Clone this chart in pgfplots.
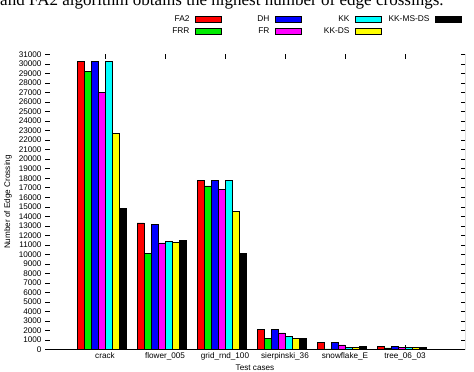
\documentclass[border=0pt]{standalone}
\usepackage{pgfplots}
\pgfplotsset{compat=1.18}
\usepackage{fontspec}
\setmainfont{Liberation Sans}
\newfontfamily\seriffont{Liberation Serif}
\definecolor{cFA}{RGB}{255,0,0}
\definecolor{cFRR}{RGB}{0,235,0}
\definecolor{cDH}{RGB}{0,0,255}
\definecolor{cFR}{RGB}{255,0,255}
\definecolor{cKK}{RGB}{0,255,255}
\definecolor{cKKDS}{RGB}{255,255,0}
\definecolor{cKKMS}{RGB}{0,0,0}
\newcommand{\lent}[1]{\makebox[42.5bp][r]{#1}}
\begin{document}
\begin{tikzpicture}
\begin{axis}[
  at={(0,0)}, anchor=south west,
  scale only axis, width=420bp, height=295bp,
  xmin=-1, xmax=6, ymin=0, ymax=31000,
  ybar, bar width=7bp,
  xtick={0,1,2,3,4,5},
  xticklabels={crack,flower\_005,grid\_rnd\_100,sierpinski\_36,snowflake\_E,tree\_06\_03},
  ytick={0,1000,...,31000},
  scaled y ticks=false,
  /pgf/number format/.cd, 1000 sep={}, assume math mode=true, /pgfplots/.cd,
  tick align=inside, major tick length=4.5bp,
  xtick pos=both, ytick pos=both,
  xticklabel pos=lower, yticklabel pos=left,
  axis line style={draw=none},
  tick style={black, line width=0.5bp},
  tick label style={font=\fontsize{8.2}{9}\selectfont},
  label style={font=\fontsize{8.2}{9}\selectfont},
  xlabel={Test cases}, ylabel={Number of Edge Crossing},
  xlabel style={yshift=2.5bp},
  legend columns=4,
  legend plot pos=right,
  legend image code/.code={\draw[#1] (0bp,-3bp) rectangle (26bp,3bp);},
  legend style={draw=none, fill=none, inner sep=0bp, column sep=2.5bp, row sep=0bp,
    font=\fontsize{8.4}{9}\selectfont,
    nodes={inner xsep=3bp, inner ysep=2.5bp, text height=6bp, text depth=1bp},
    at={(0.6137,1.1)}, anchor=center},
]
\addplot[fill=cFA, draw=black, line width=0.5bp, bar shift=-24.5bp] coordinates {(0,30250) (1,13300) (2,17750) (3,2120) (4,730) (5,290)};
\addlegendentry{\lent{FA2}}
\addplot[fill=cDH, draw=black, line width=0.5bp, bar shift=-10.5bp] coordinates {(0,30250) (1,13170) (2,17750) (3,2120) (4,730) (5,290)};
\addlegendentry{\lent{DH}}
\addplot[fill=cKK, draw=black, line width=0.5bp, bar shift=3.5bp] coordinates {(0,30250) (1,11390) (2,17750) (3,1340) (4,210) (5,200)};
\addlegendentry{\lent{KK}}
\addplot[fill=cKKMS, draw=black, line width=0.5bp, bar shift=17.5bp] coordinates {(0,14820) (1,11460) (2,10090) (3,1170) (4,310) (5,200)};
\addlegendentry{\lent{KK-MS-DS}}
\addplot[fill=cFRR, draw=black, line width=0.5bp, bar shift=-17.5bp] coordinates {(0,29200) (1,10090) (2,17190) (3,1140) (4,60) (5,180)};
\addlegendentry{\lent{FRR}}
\addplot[fill=cFR, draw=black, line width=0.5bp, bar shift=-3.5bp] coordinates {(0,27050) (1,11210) (2,16810) (3,1760) (4,480) (5,220)};
\addlegendentry{\lent{FR}}
\addplot[fill=cKKDS, draw=black, line width=0.5bp, bar shift=10.5bp] coordinates {(0,22750) (1,11280) (2,14530) (3,1140) (4,210) (5,190)};
\addlegendentry{\lent{KK-DS}}
\draw[black, line width=0.6bp] (rel axis cs:0,0) -- (rel axis cs:1,0) -- (rel axis cs:1,1);
\end{axis}
\node[anchor=base west, inner sep=0pt, font=\seriffont\fontsize{17.1}{19}\selectfont] at (-45bp,343.5bp) {and FA2 algorithm obtains the highest number of edge crossings.};
\pgfresetboundingbox
\path[use as bounding box] (-45bp,-22.5bp) rectangle (429bp,349.5bp);
\end{tikzpicture}
\end{document}
